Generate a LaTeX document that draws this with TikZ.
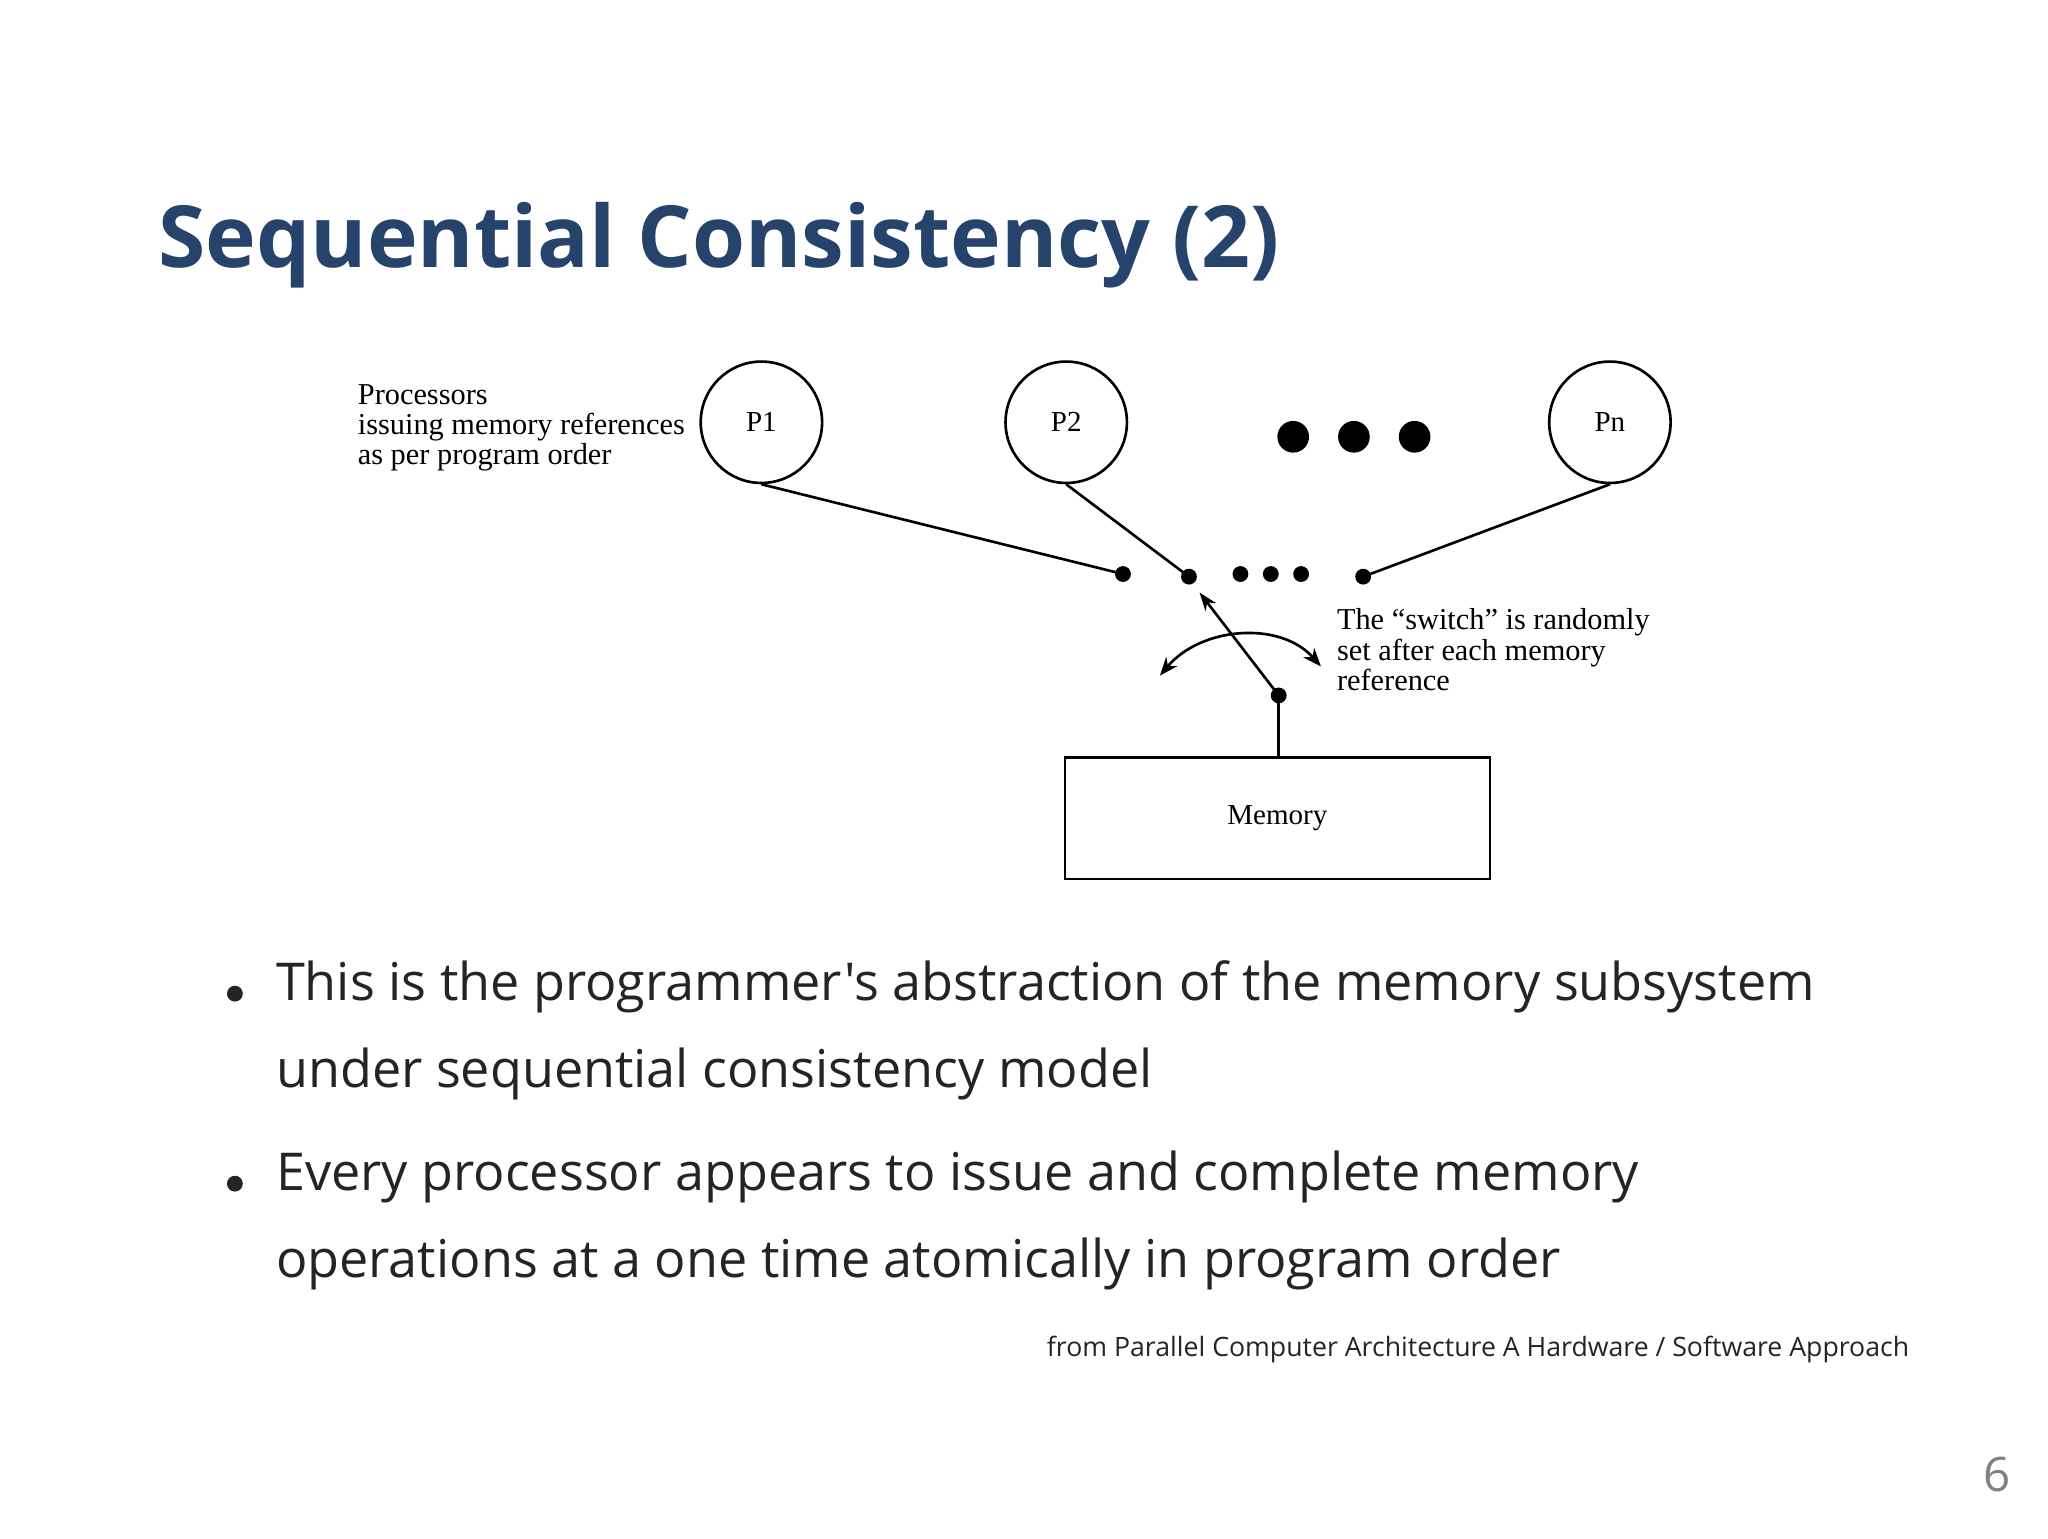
\documentclass[tikz,border=0pt]{standalone}
\usepackage{fontspec}
\setmainfont{Liberation Serif}
\newfontfamily\sans{Open Sans}
\usetikzlibrary{arrows.meta}
\definecolor{titleblue}{HTML}{26446B}
\definecolor{txt}{HTML}{222426}
\begin{document}
\begin{tikzpicture}[x=1pt,y=-1pt,
  proc/.style={circle,draw,line width=2pt,minimum size=92pt,inner sep=0pt,font=\fontsize{22}{23}\selectfont},
  big/.style={circle,fill,inner sep=0pt,minimum size=24pt},
  sm/.style={circle,fill,inner sep=0pt,minimum size=12pt},
  ln/.style={line width=2pt},
  note/.style={align=left,anchor=north west,inner sep=0pt,font=\fontsize{23}{23}\selectfont},
  bul/.style={anchor=north west,inner sep=0pt,align=left,text=txt,font=\sans\fontsize{39.5}{66}\selectfont}]
\useasboundingbox (0,0) rectangle (1552,1166);
\fill[white] (0,0) rectangle (1552,1166);
\node[anchor=base west,inner sep=0pt,text=titleblue,font=\sans\bfseries\fontsize{65}{80}\selectfont] (title) at (120,203) {Sequential Consistency (2)};
\node[proc] (p1) at (577,320) {P1};
\node[proc] (p2) at (808,320) {P2};
\node[proc] (pn) at (1220,320) {Pn};
\node[big] (b1) at (980,331) {};
\node[big] (b2) at (1026,331) {};
\node[big] (b3) at (1072,331) {};
\node[note] (lab) at (271,291) {Processors\\issuing memory references\\as per program order};
\node[sm] (d1) at (851,435) {};
\node[sm] (d2) at (901,437) {};
\node[sm] (d3) at (940,435) {};
\node[sm] (d4) at (963,435) {};
\node[sm] (d5) at (986,435) {};
\node[sm] (d6) at (1033,437) {};
\draw[ln] (p1.south) -- (d1.center);
\draw[ln] (p2.south) -- (d2.center);
\draw[ln] (pn.south) -- (d6.center);
\node[sm] (piv) at (969,527) {};
\node[draw,line width=2pt,minimum width=322pt,minimum height=92pt,inner sep=0pt,font=\fontsize{22}{23}\selectfont] (mem) at (968,620) {Memory};
\draw[ln] (piv.center) -- (mem.north -| piv);
\coordinate (sw) at (909,449);
\draw[ln,-{Stealth[length=14pt,width=10pt]}] (piv.center) -- (sw);
\coordinate (al) at (879,512);
\coordinate (ar) at (1001,505);
\draw[ln,{Stealth[length=14pt,width=11pt]}-{Stealth[length=14pt,width=11pt]}] (al) .. controls (910,475) and (970,470) .. (ar);
\node[note] (swl) at (1013,461) {The ``switch'' is randomly\\set after each memory\\reference};
\fill[txt] (178,753) circle (6pt);
\fill[txt] (178,897) circle (6pt);
\node[bul] (t1) at (209,728) {This is the programmer's abstraction of the memory subsystem\\under sequential consistency model};
\node[bul] (t2) at (209,872) {Every processor appears to issue and complete memory\\operations at a one time atomically in program order};
\node[anchor=base east,inner sep=0pt,text=txt,font=\sans\fontsize{20.2}{22}\selectfont] (src) at (1447,1028) {from Parallel Computer Architecture A Hardware / Software Approach};
\node[anchor=base east,inner sep=0pt,text=gray,font=\sans\fontsize{36}{40}\selectfont] (pg) at (1524,1130) {6};
\end{tikzpicture}
\end{document}
